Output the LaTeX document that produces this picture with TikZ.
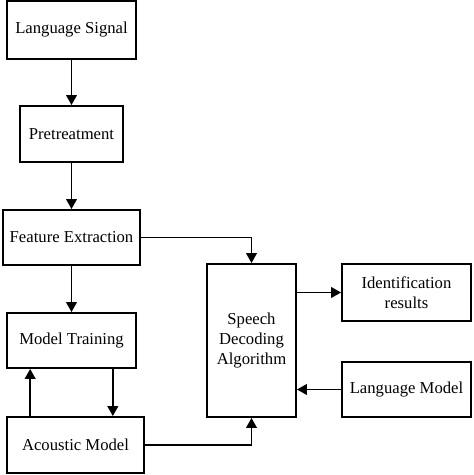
\documentclass[tikz,border=0pt]{standalone}
\usepackage{fontspec}
\setmainfont{Liberation Serif}
\usepackage{tikz}
\usetikzlibrary{arrows.meta,positioning,calc}
\tikzset{%
	block/.style = {draw, rectangle, line width=1.4pt, align=center, inner sep=2pt, font=\fontsize{12.5}{15}\selectfont},
	arrow/.style = {line width=1.4pt, -{Triangle[length=7.5pt,width=8pt]}},
}
\begin{document}
\begin{tikzpicture}[x=0.75pt,y=-0.75pt]
		\useasboundingbox (0,0) rectangle (474,475);
		\node[block, minimum width=96.75pt, minimum height=43.5pt] (sig) at (71.5,30) {Language Signal};
		\node[block, minimum width=77.25pt, minimum height=42pt] (pre) at (71.5,134) {Pretreatment};
		\node[block, minimum width=102.75pt, minimum height=41.25pt] (fea) at (71.5,237.5) {Feature Extraction};
		\node[block, minimum width=96.75pt, minimum height=41.25pt] (mtr) at (71.5,340.5) {Model Training};
		\node[block, minimum width=102.75pt, minimum height=42pt] (aco) at (75.5,445) {Acoustic Model};
		\node[block, minimum width=66.75pt, minimum height=114.75pt] (sda) at (251.5,340.5) {Speech\\Decoding\\Algorithm};
		\node[block, minimum width=96.75pt, minimum height=42.75pt] (idr) at (406.5,292.5) {Identification\\results};
		\node[block, minimum width=96.75pt, minimum height=41.25pt] (lan) at (406.5,389.5) {Language Model};
		
		\draw[arrow] (sig) -- (pre);
		\draw[arrow] (pre) -- (fea);
		\draw[arrow] (fea) -- (mtr);
		\draw[arrow] ([xshift=31pt]mtr.south) -- ([xshift=31pt]mtr.south |- aco.north);
		\draw[arrow] ([xshift=-31pt]mtr.south |- aco.north) -- ([xshift=-31pt]mtr.south);
		
		\draw[arrow] (fea.east) -| (sda.north);
		\draw[arrow] (aco.east) -| (sda.south);
		\draw[arrow] (sda.east |- idr.west) -- (idr.west);
		\draw[arrow] (lan.west) -- (lan.west -| sda.east);
		
		\end{tikzpicture}
\end{document}
